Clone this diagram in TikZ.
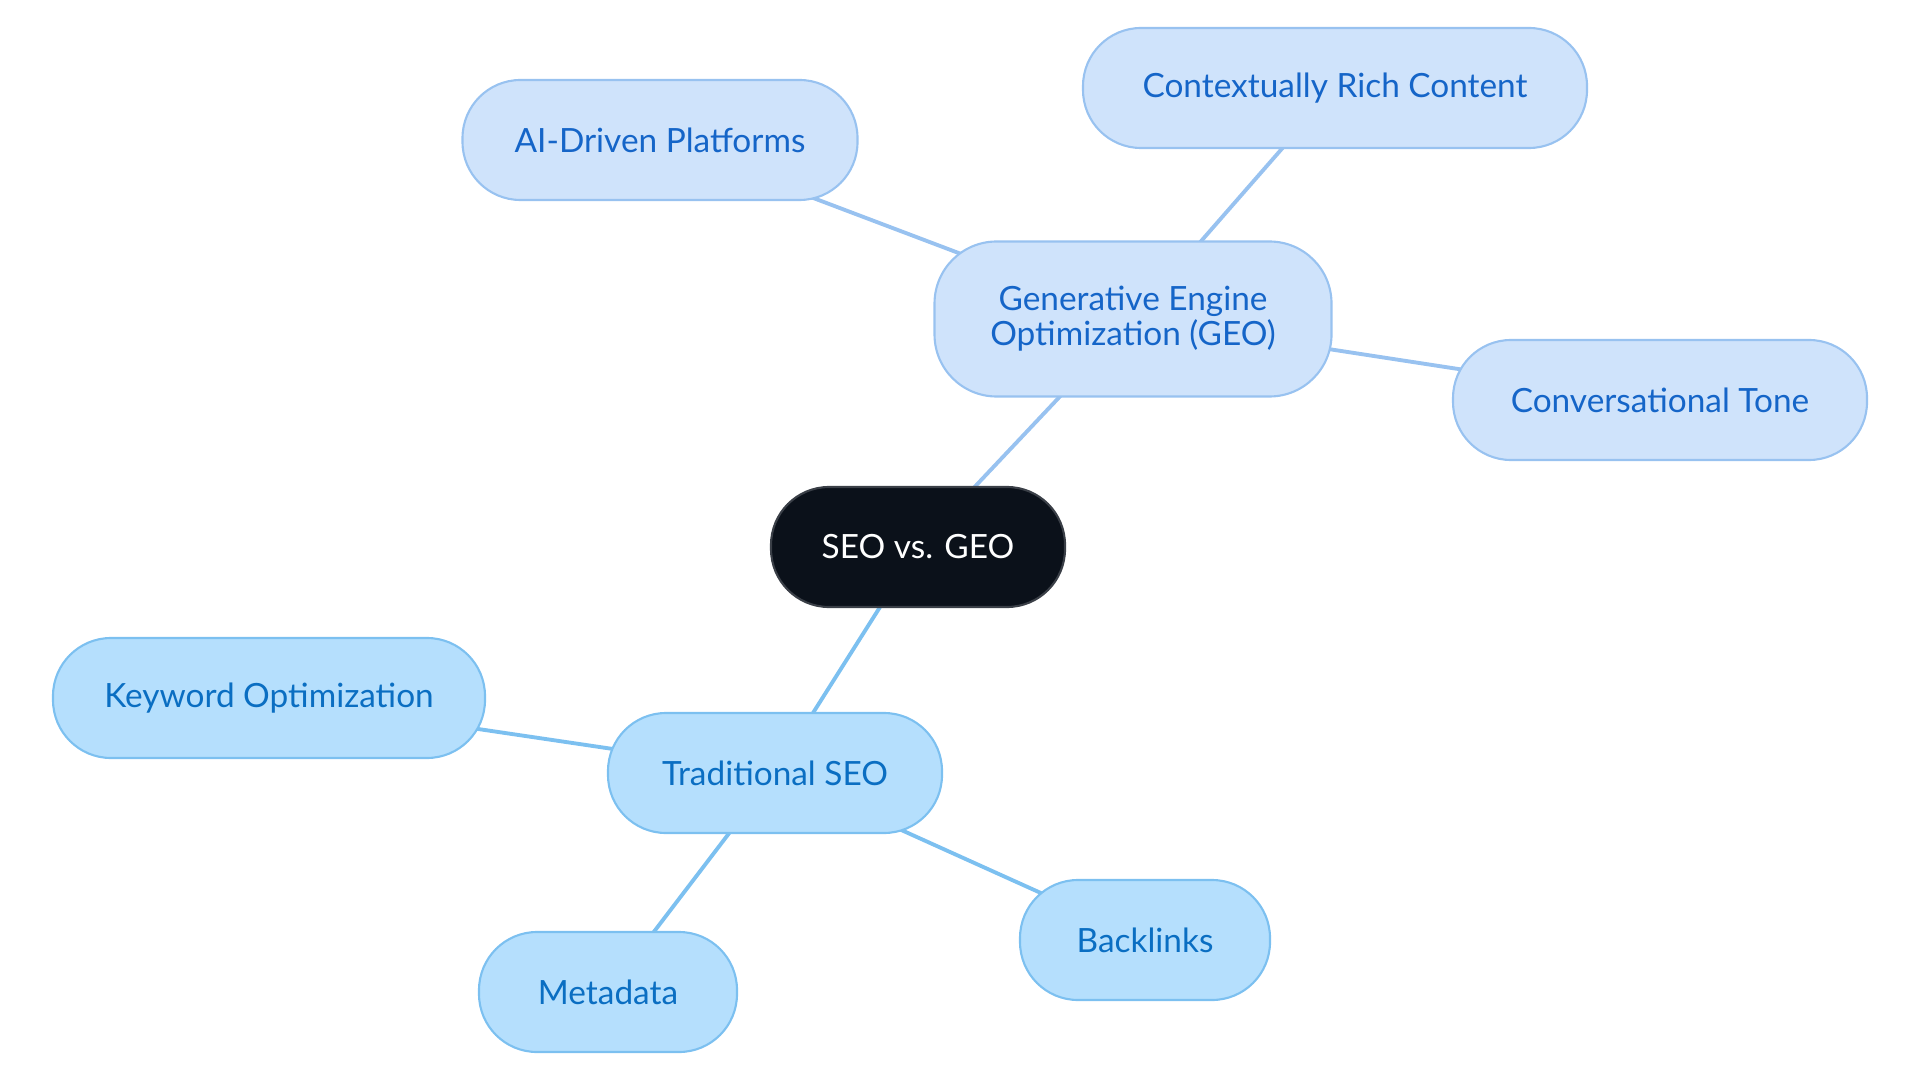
\documentclass[tikz,border=0pt]{standalone}
\usepackage{fontspec}
\setmainfont{Lato}
\usetikzlibrary{positioning,backgrounds}

\definecolor{rootfill}{HTML}{0B111A}
\definecolor{rootline}{HTML}{3A3F47}
\definecolor{geofill}{HTML}{CFE3FB}
\definecolor{geoline}{HTML}{98C2F0}
\definecolor{geotext}{HTML}{1565C8}
\definecolor{seofill}{HTML}{B5DFFD}
\definecolor{seoline}{HTML}{7CC0F0}
\definecolor{seotext}{HTML}{0A6EC2}

\tikzset{
    pill/.style={rounded corners=0.58cm, line width=0.6pt, minimum height=1.2cm,
        align=center, font=\fontsize{9.5}{10}\selectfont, inner sep=0pt},
    rootbox/.style={pill, fill=rootfill, draw=rootline, text=white},
    geobox/.style={pill, fill=geofill, draw=geoline, text=geotext},
    seobox/.style={pill, fill=seofill, draw=seoline, text=seotext},
    geolink/.style={draw=geoline, line width=1.1pt},
    seolink/.style={draw=seoline, line width=1.1pt}
}

\begin{document}
\begin{tikzpicture}
    \useasboundingbox (0,0) rectangle (19.2,-10.83);

    % Root
    \node[rootbox, minimum width=2.94cm] (root) at (9.18,-5.47) {SEO vs. GEO};

    % GEO branch
    \node[geobox, minimum width=3.97cm, minimum height=1.55cm, rounded corners=0.62cm] (geo) at (11.33,-3.19) {Generative Engine\\Optimization (GEO)};
    \node[geobox, minimum width=3.95cm] (aidriven) at (6.60,-1.40) {AI-Driven Platforms};
    \node[geobox, minimum width=5.04cm] (context) at (13.35,-0.88) {Contextually Rich Content};
    \node[geobox, minimum width=4.14cm] (tone) at (16.60,-4.00) {Conversational Tone};

    % SEO branch
    \node[seobox, minimum width=3.34cm] (trad) at (7.75,-7.73) {Traditional SEO};
    \node[seobox, minimum width=4.32cm] (keyword) at (2.69,-6.98) {Keyword Optimization};
    \node[seobox, minimum width=2.58cm] (meta) at (6.08,-9.92) {Metadata};
    \node[seobox, minimum width=2.50cm] (backlinks) at (11.45,-9.40) {Backlinks};

    % Connectors, behind the boxes
    \begin{pgfonlayer}{background}
    \draw[geolink] (root.center) -- (geo.center);
    \draw[geolink] (geo.center) -- (aidriven.center);
    \draw[geolink] (geo.center) -- (context.center);
    \draw[geolink] (geo.center) -- (tone.center);
    \draw[seolink] (root.center) -- (trad.center);
    \draw[seolink] (trad.center) -- (keyword.center);
    \draw[seolink] (trad.center) -- (meta.center);
    \draw[seolink] (trad.center) -- (backlinks.center);
    \end{pgfonlayer}
\end{tikzpicture}
\end{document}
